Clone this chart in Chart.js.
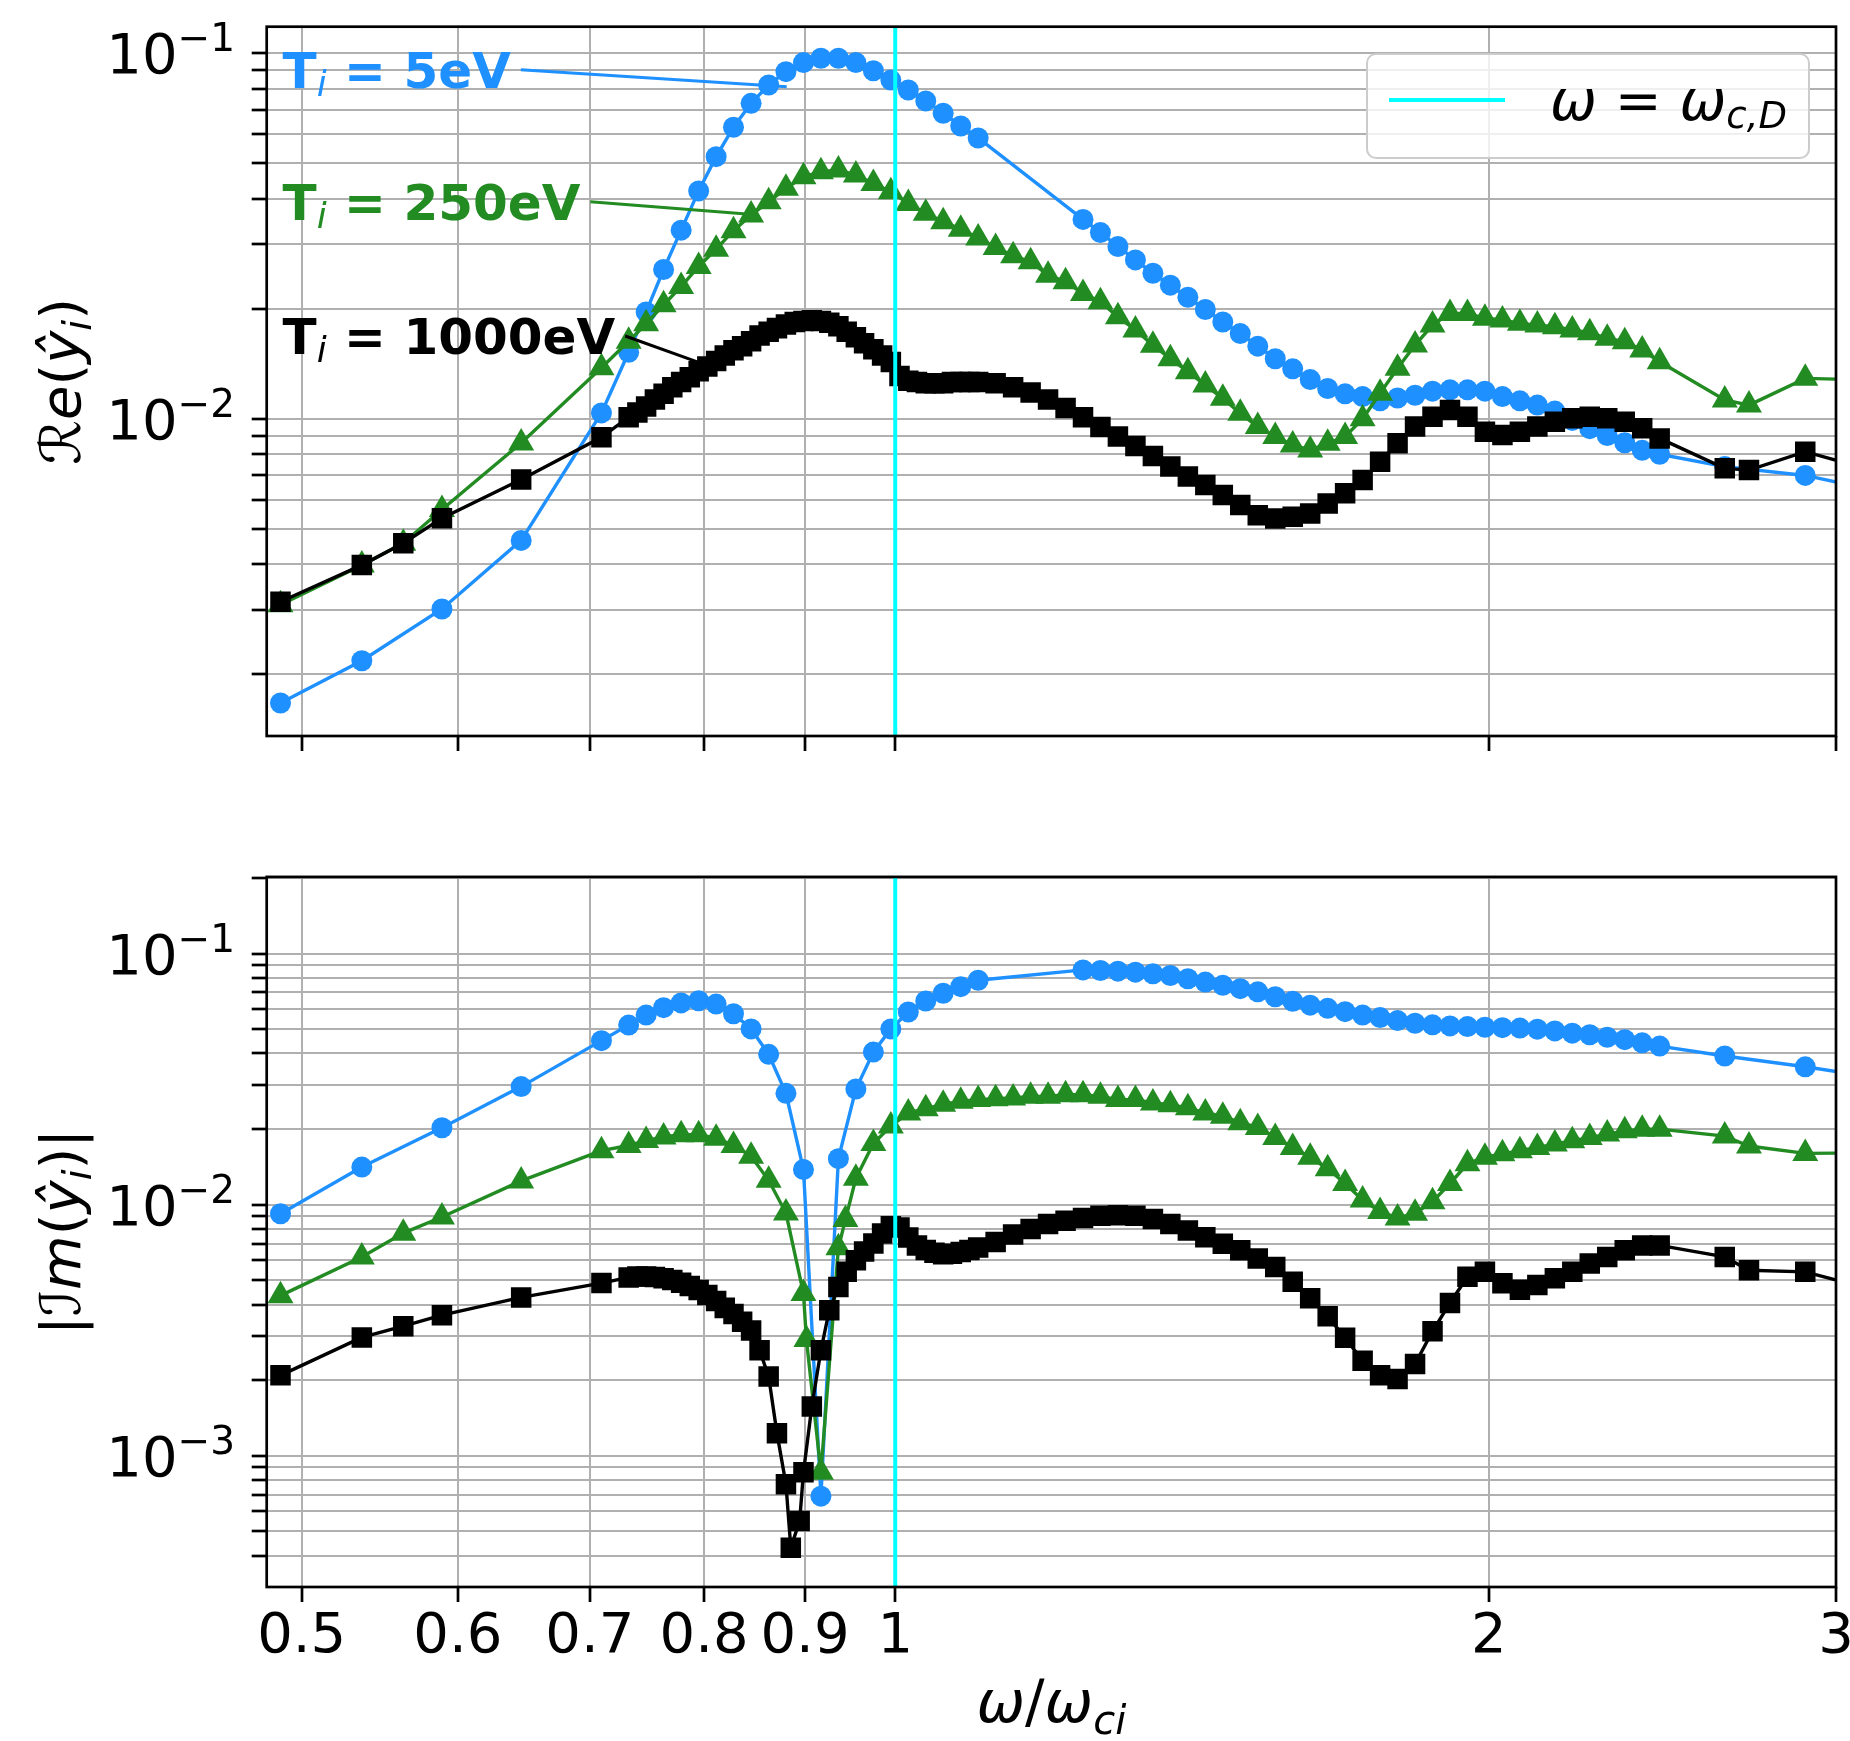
<!DOCTYPE html>
<html>
<head>
<meta charset="utf-8">
<script src="https://cdn.jsdelivr.net/npm/chart.js@4.4.1/dist/chart.umd.min.js"></script>
<style>
  html, body { margin: 0; padding: 0; background: #fff; }
  #wrap { position: relative; width: 1850px; height: 1741px; }
  canvas { position: absolute; left: 0; }
  #reChart { top: 0; }
  #imChart { top: 800px; }
</style>
</head>
<body>
<div id="wrap">
  <canvas id="reChart" width="1850" height="800"></canvas>
  <canvas id="imChart" width="1850" height="941"></canvas>
</div>
<script>
// frequency sweep, omega / omega_ci
var wLow = [0.4878, 0.5364, 0.5630, 0.5890, 0.6461, 0.7096];
var wRes = [0.7325, 0.7400, 0.7476, 0.7553, 0.7630, 0.7708, 0.7788, 0.7867, 0.7949, 0.8030,
            0.8113, 0.8195, 0.8279, 0.8363, 0.8451, 0.8535, 0.8626, 0.8710, 0.8802, 0.8893,
            0.8984, 0.9072, 0.9169, 0.9259, 0.9358, 0.9449, 0.9551, 0.9643, 0.9748, 0.9848,
            0.9949, 1.0050, 1.0154, 1.0257, 1.0363, 1.0469, 1.0576, 1.0685, 1.0795, 1.0905, 1.1017];
var wMid = [1.1244, 1.1476, 1.1713, 1.1954, 1.2201, 1.2452, 1.2708, 1.2970, 1.3238, 1.3511,
            1.3789, 1.4074, 1.4364, 1.4660, 1.4962, 1.5271, 1.5586, 1.5907, 1.6235, 1.6570,
            1.6911, 1.7260, 1.7616, 1.7979, 1.8350, 1.8728, 1.9114, 1.9508, 1.9910, 2.0321,
            2.0740, 2.1167, 2.1604, 2.2049, 2.2503, 2.2967, 2.3441, 2.3924, 2.4417];
var wHigh = [2.6345, 2.7101, 2.8942, 3.17];
var wDip = [0.8852, 0.8944, 0.9015, 0.9435];

// Re(y_i), T_i = 5eV
var re5Low = [0.00167, 0.00218, null, 0.00302, 0.00465, 0.01038];
var re5Res = [0.0152, null, 0.0196, null, 0.0256, null, 0.0328, null, 0.0420, null,
              0.0521, null, 0.0627, null, 0.0729, null, 0.0818, null, 0.0890, null,
              0.0942, null, 0.0968, null, 0.0968, null, 0.0942, null, 0.0895, null,
              0.0844, null, 0.0793, null, 0.0740, null, 0.0685, null, 0.0632, null, 0.0586];
var re5Mid = [null, null, null, null, null, 0.0351, 0.0323, 0.0296, 0.0272, 0.0250,
              0.0232, 0.0215, 0.0199, 0.0184, 0.0171, 0.0158, 0.0146, 0.0137, 0.0128, 0.0121,
              0.0117, 0.0115, 0.0112, 0.0114, 0.0116, 0.0119, 0.0120, 0.0120, 0.0119, 0.0115,
              0.0112, 0.0109, 0.0105, 0.0099, 0.0094, 0.0090, 0.0086, 0.0082, 0.0080];
var re5High = [0.0074, null, 0.0070, 0.0063];

// Re(y_i), T_i = 250eV
var re250Low = [0.0031, 0.00398, 0.00457, 0.00565, 0.00859, 0.0138];
var re250Res = [0.0163, null, 0.0182, null, 0.0205, null, 0.0230, null, 0.0261, null,
                0.0291, null, 0.0327, null, 0.0361, null, 0.0392, null, 0.0427, null,
                0.0459, null, 0.0474, null, 0.0479, null, 0.0464, null, 0.0440, null,
                0.0418, null, 0.0388, null, 0.0365, null, 0.0346, null, 0.0330, null, 0.0312];
var re250Mid = [0.0294, 0.0279, 0.0269, 0.0247, 0.0237, 0.0220, 0.0209, 0.0190, 0.0175, 0.0159,
                0.0146, 0.01345, 0.01237, 0.01138, 0.01035, 0.00952, 0.00894, 0.00848, 0.00821, 0.00857,
                0.00894, 0.0100, 0.01174, 0.01374, 0.01591, 0.01804, 0.01942, 0.01942, 0.01883, 0.01863,
                0.01824, 0.01804, 0.01785, 0.01749, 0.0172, 0.0166, 0.01625, 0.01542, 0.01432];
var re250High = [0.01126, 0.0109, 0.0129, 0.01275];

// Re(y_i), T_i = 1000eV
var re1000Low = [0.00316, 0.00398, 0.00457, 0.00535, 0.00682, 0.0089];
var re1000Res = [0.0101, 0.0104, 0.0108, 0.0113, 0.0117, 0.0122, 0.0126, 0.0130, 0.0135, 0.0139,
                 0.0144, 0.0149, 0.0154, 0.0158, 0.0163, 0.0169, 0.0173, 0.0177, 0.0181, 0.0184,
                 0.0185, 0.0186, 0.0185, 0.0183, 0.0179, 0.0173, 0.0167, 0.0161, 0.0155, 0.0149,
                 0.0143, 0.0131, 0.0127, 0.0126, 0.0125, 0.0125, 0.0125, 0.0126, 0.0126, 0.0126, 0.0126];
var re1000Mid = [0.0125, 0.0122, 0.0118, 0.0113, 0.0107, 0.0101, 0.0095, 0.00894, 0.00842, 0.00791,
                 0.0074, 0.00695, 0.00659, 0.00619, 0.00581, 0.00545, 0.00534, 0.0054, 0.00551, 0.00587,
                 0.00626, 0.0068, 0.00763, 0.00857, 0.00952, 0.01013, 0.01057, 0.01013, 0.00922, 0.00903,
                 0.00922, 0.00952, 0.00982, 0.01003, 0.01013, 0.01003, 0.00982, 0.00942, 0.00884];
var re1000High = [0.00732, 0.00724, 0.00813, 0.0071];

// |Im(y_i)|, T_i = 5eV
var im5Low = [0.0092, 0.01411, null, 0.02025, 0.02952, 0.0450];
var im5Res = [0.0519, null, 0.0569, null, 0.0609, null, 0.0636, null, 0.0649, null,
              0.0629, null, 0.0576, null, 0.0501, null, 0.0397, null, 0.02775, null,
              0.0138, null, 0.00069, null, 0.01525, null, 0.02888, null, 0.0405, null,
              0.0501, null, 0.0585, null, 0.0647, null, 0.0695, null, 0.0738, null, 0.0783];
var im5Mid = [null, null, null, null, null, 0.0861, 0.0856, 0.0851, 0.0843, 0.0831,
              0.0818, 0.0794, 0.0770, 0.0747, 0.0725, 0.0704, 0.0673, 0.0646, 0.0623, 0.0605,
              0.0587, 0.0569, 0.0556, 0.0541, 0.0528, 0.0520, 0.0515, 0.0512, 0.0509, 0.0507,
              0.0505, 0.0500, 0.0492, 0.0482, 0.0475, 0.0464, 0.0454, 0.0441, 0.0428];
var im5High = [0.0391, null, 0.0354, 0.0317];

// |Im(y_i)|, T_i = 250eV
var im250Low = [0.00434, 0.00619, 0.0077, 0.00893, 0.01243, 0.0164];
var im250Res = [0.0172, null, 0.0180, null, 0.0186, null, 0.0190, null, 0.0190, null,
                0.0184, null, 0.0172, null, 0.0156, null, 0.0125, null, 0.00926, null,
                0.00443, null, 0.00086, null, 0.00673, null, 0.01274, null, 0.01753, null,
                0.02056, null, 0.0232, null, 0.0241, null, 0.0251, null, 0.0258, null, 0.0262];
var im250Mid = [0.0264, 0.0266, 0.0270, 0.0270, 0.0274, 0.0274, 0.0270, 0.0262, 0.0262, 0.0254,
                0.0250, 0.0243, 0.0232, 0.0225, 0.0212, 0.0203, 0.0185, 0.0169, 0.01545, 0.0139,
                0.01214, 0.01043, 0.00939, 0.00884, 0.00925, 0.01027, 0.01214, 0.01455, 0.01545, 0.01593,
                0.0164, 0.0169, 0.01743, 0.01796, 0.0185, 0.0191, 0.01967, 0.01998, 0.01998];
var im250High = [0.01875, 0.01712, 0.0160, 0.0161];
var im250Dip = [null, null, 0.0029, 0.00872];

// |Im(y_i)|, T_i = 1000eV
var im1000Low = [0.00209, 0.00296, 0.00328, 0.00363, 0.00427, 0.00487];
var im1000Res = [0.00513, 0.00517, 0.00517, 0.00515, 0.00509, 0.00501, 0.00489, 0.00474, 0.00457, 0.00437,
                 0.00413, 0.00388, 0.00367, 0.00342, 0.00315, 0.00263, 0.00207, 0.00123, 0.00077, null,
                 0.00086, 0.00157, 0.00263, 0.0038, 0.0047, 0.0054, 0.0060, 0.0065, 0.0070, 0.00768,
                 0.0082, 0.0081, 0.0074, 0.00687, 0.0066, 0.00643, 0.00634, 0.00638, 0.00647, 0.0066, 0.00675];
var im1000Mid = [0.0071, 0.0076, 0.0080, 0.00837, 0.00863, 0.00884, 0.00903, 0.00908, 0.00903, 0.00876,
                 0.00837, 0.00788, 0.00742, 0.00699, 0.00658, 0.0061, 0.00565, 0.00493, 0.00424, 0.00359,
                 0.00295, 0.00239, 0.00209, 0.00202, 0.00232, 0.00313, 0.00406, 0.00516, 0.0054, 0.00486,
                 0.00458, 0.00479, 0.00509, 0.0054, 0.00583, 0.00619, 0.00658, 0.00688, 0.00688];
var im1000High = [0.00619, 0.00548, 0.0054, 0.00446];
var im1000Dip = [0.00043, 0.00055, null, null];

// axes
var wRange = [0.48, 3];
var reRange = [0.001357, 0.1181];
var imRange = [0.000325, 0.202];
var xTickVals = [0.5, 0.6, 0.7, 0.8, 0.9, 1, 2, 3];
var xTickLabels = ['0.5', '0.6', '0.7', '0.8', '0.9', '1', '2', '3'];
var wCyclotron = 1;

// labels pointing at the Re curves
var noteLabels = ['5eV', '250eV', '1000eV'];
var noteW = [0.489, 0.489, 0.489];
var noteV = [0.0901, 0.0392, 0.01684];
var noteTipW = [0.881, 0.8405, 0.7975];
var noteTipV = [0.0809, 0.0363, 0.01418];

var BLUE = '#1e90ff', GREEN = '#228b22', BLACK = '#000000', CYAN = '#00ffff';
var FONT = "'DejaVu Sans'";

function points(parts) {
    var pts = [];
    parts.forEach(function(p) {
        var xs = p[0], ys = p[1];
        for (var i = 0; i < xs.length; i++) {
            if (ys[i] !== null && ys[i] !== undefined) pts.push({x: xs[i], y: ys[i]});
        }
    });
    pts.sort(function(a, b) { return a.x - b.x; });
    return pts;
}

function series(data, color, style, radius, order) {
    return {
        data: data,
        borderColor: color,
        backgroundColor: color,
        pointBackgroundColor: color,
        borderWidth: 3.4,
        pointStyle: style,
        pointRadius: radius,
        pointHoverRadius: radius,
        pointBorderWidth: 0,
        order: order,
        clip: 0
    };
}

function cyanLine() {
    return {
        data: [{x: wCyclotron, y: 1e-6}, {x: wCyclotron, y: 10}],
        borderColor: CYAN,
        borderWidth: 4,
        pointRadius: 0,
        order: 0,
        clip: 0
    };
}

function logTicks(min, max) {
    var t = [];
    for (var e = -5; e <= 1; e++) {
        for (var m = 1; m <= 9; m++) {
            var v = m * Math.pow(10, e);
            if (v >= min && v <= max) t.push({value: v});
        }
    }
    return t;
}

var gridStyle = {color: '#b0b0b0', lineWidth: 2, drawTicks: true, tickLength: 15, tickColor: '#000', tickWidth: 2.7};

function xAxis(showLabels, height) {
    return {
        type: 'logarithmic',
        min: wRange[0],
        max: wRange[1],
        afterBuildTicks: function(s) { s.ticks = xTickVals.map(function(v) { return {value: v}; }); },
        afterFit: function(s) {
            s.height = height;
            // keep the plot edges fixed, the "3" may run off the figure
            s.paddingLeft = 0;
            s.paddingRight = 0;
        },
        ticks: {
            display: showLabels, autoSkip: false, maxRotation: 0, minRotation: 0, padding: 2,
            color: '#000', font: {family: 'DejaVu Sans', size: 56},
            callback: function(v, i) { return xTickLabels[i]; }
        },
        grid: gridStyle,
        border: {display: false}
    };
}

function yAxis(range) {
    return {
        type: 'logarithmic',
        min: range[0],
        max: range[1],
        afterBuildTicks: function(s) { s.ticks = logTicks(range[0], range[1]); },
        afterFit: function(s) { s.width = 266.7; s.paddingTop = 0; s.paddingBottom = 0; },
        ticks: {display: false},
        grid: gridStyle,
        border: {display: false}
    };
}

function drawRuns(ctx, runs, x, y, align) {
    var total = 0;
    runs.forEach(function(r) { ctx.font = r.f; r.w = ctx.measureText(r.t).width; total += r.w; });
    var cx = align === 'right' ? x - total : (align === 'center' ? x - total / 2 : x);
    ctx.textAlign = 'left';
    ctx.textBaseline = 'alphabetic';
    runs.forEach(function(r) { ctx.font = r.f; ctx.fillText(r.t, cx, y + (r.dy || 0)); cx += r.w; });
    return total;
}

var decor = {
    id: 'decor',
    afterDatasetsDraw: function(chart, args, opts) {
        if (!opts.notes) return;
        var ctx = chart.ctx, xs = chart.scales.x, ys = chart.scales.y;
        var colors = [BLUE, GREEN, BLACK];
        ctx.save();
        for (var i = 0; i < noteLabels.length; i++) {
            var px = xs.getPixelForValue(noteW[i]), py = ys.getPixelForValue(noteV[i]);
            ctx.fillStyle = colors[i];
            var w = drawRuns(ctx, [
                {t: 'T', f: 'bold 50px ' + FONT},
                {t: 'i', f: 'italic 36px ' + FONT, dy: 8},
                {t: ' = ' + noteLabels[i], f: 'bold 50px ' + FONT}
            ], px, py + 18, 'left');
            ctx.strokeStyle = colors[i];
            ctx.lineWidth = 3;
            ctx.beginPath();
            ctx.moveTo(px + w + 10, py);
            ctx.lineTo(xs.getPixelForValue(noteTipW[i]), ys.getPixelForValue(noteTipV[i]));
            ctx.stroke();
        }
        ctx.restore();
    },
    afterDraw: function(chart, args, opts) {
        var ctx = chart.ctx, a = chart.chartArea, ys = chart.scales.y;
        ctx.save();
        // axes frame
        ctx.strokeStyle = '#000';
        ctx.lineWidth = 2.7;
        ctx.strokeRect(a.left, a.top, a.right - a.left, a.bottom - a.top);

        // decade labels 10^n
        ctx.fillStyle = '#000';
        ys.ticks.forEach(function(t) {
            var e = Math.log10(t.value);
            if (Math.abs(e - Math.round(e)) > 1e-6) return;
            var py = ys.getPixelForValue(t.value);
            drawRuns(ctx, [
                {t: '10', f: '56px ' + FONT},
                {t: '\u2212' + Math.abs(Math.round(e)), f: '39px ' + FONT, dy: -22}
            ], 235, py + 20, 'right');
        });

        // y title
        ctx.save();
        ctx.translate(80, (a.top + a.bottom) / 2);
        ctx.rotate(-Math.PI / 2);
        drawRuns(ctx, opts.yTitle, 0, 0, 'center');
        ctx.restore();

        if (opts.xTitle) {
            drawRuns(ctx, [
                {t: '\u03c9', f: 'italic 58px ' + FONT},
                {t: '/', f: '58px ' + FONT},
                {t: '\u03c9', f: 'italic 58px ' + FONT},
                {t: 'ci', f: 'italic 40px ' + FONT, dy: 12}
            ], (a.left + a.right) / 2, 922, 'center');
        }

        if (opts.legend) {
            ctx.beginPath();
            ctx.roundRect(1367, 54, 442, 104, 9);
            ctx.fillStyle = 'rgba(255,255,255,0.8)';
            ctx.fill();
            ctx.strokeStyle = '#cccccc';
            ctx.lineWidth = 2;
            ctx.stroke();
            ctx.strokeStyle = CYAN;
            ctx.lineWidth = 4;
            ctx.beginPath();
            ctx.moveTo(1389, 100);
            ctx.lineTo(1505, 100);
            ctx.stroke();
            ctx.fillStyle = '#000';
            drawRuns(ctx, [
                {t: '\u03c9', f: 'italic 56px ' + FONT},
                {t: ' = ', f: '56px ' + FONT},
                {t: '\u03c9', f: 'italic 56px ' + FONT},
                {t: 'c,D', f: 'italic 37px ' + FONT, dy: 8}
            ], 1550, 120, 'left');
        }
        ctx.restore();
    }
};

Chart.defaults.font.family = 'DejaVu Sans';

var reTitle = [
    {t: '\u211b', f: '56px ' + FONT},
    {t: 'e', f: 'italic 56px ' + FONT},
    {t: '(', f: '56px ' + FONT},
    {t: '\u0177', f: 'italic 56px ' + FONT},
    {t: 'i', f: 'italic 39px ' + FONT, dy: 11},
    {t: ')', f: '56px ' + FONT}
];
var imTitle = [
    {t: '|', f: '56px ' + FONT},
    {t: '\u2110', f: '56px ' + FONT},
    {t: 'm', f: 'italic 56px ' + FONT},
    {t: '(', f: '56px ' + FONT},
    {t: '\u0177', f: 'italic 56px ' + FONT},
    {t: 'i', f: 'italic 39px ' + FONT, dy: 11},
    {t: ')', f: '56px ' + FONT},
    {t: '|', f: '56px ' + FONT}
];

new Chart(document.getElementById('reChart'), {
    type: 'line',
    data: {
        datasets: [
            cyanLine(),
            series(points([[wLow, re5Low], [wRes, re5Res], [wMid, re5Mid], [wHigh, re5High]]), BLUE, 'circle', 10.5, 3),
            series(points([[wLow, re250Low], [wRes, re250Res], [wMid, re250Mid], [wHigh, re250High]]), GREEN, 'triangle', 15, 2),
            series(points([[wLow, re1000Low], [wRes, re1000Res], [wMid, re1000Mid], [wHigh, re1000High]]), BLACK, 'rect', 14.5, 1)
        ]
    },
    options: {
        responsive: false,
        animation: false,
        devicePixelRatio: 1,
        events: [],
        layout: {padding: {top: 26.7, right: 14, left: 0, bottom: 0}, autoPadding: false},
        scales: {x: xAxis(false, 64), y: yAxis(reRange)},
        plugins: {
            legend: {display: false},
            tooltip: {enabled: false},
            decor: {yTitle: reTitle, notes: true, legend: true}
        }
    },
    plugins: [decor]
});

new Chart(document.getElementById('imChart'), {
    type: 'line',
    data: {
        datasets: [
            cyanLine(),
            series(points([[wLow, im5Low], [wRes, im5Res], [wMid, im5Mid], [wHigh, im5High]]), BLUE, 'circle', 10.5, 3),
            series(points([[wLow, im250Low], [wRes, im250Res], [wMid, im250Mid], [wHigh, im250High], [wDip, im250Dip]]), GREEN, 'triangle', 15, 2),
            series(points([[wLow, im1000Low], [wRes, im1000Res], [wMid, im1000Mid], [wHigh, im1000High], [wDip, im1000Dip]]), BLACK, 'rect', 14.5, 1)
        ]
    },
    options: {
        responsive: false,
        animation: false,
        devicePixelRatio: 1,
        events: [],
        layout: {padding: {top: 76.9, right: 14, left: 0, bottom: 0}, autoPadding: false},
        scales: {x: xAxis(true, 154), y: yAxis(imRange)},
        plugins: {
            legend: {display: false},
            tooltip: {enabled: false},
            decor: {yTitle: imTitle, xTitle: true}
        }
    },
    plugins: [decor]
});
</script>
</body>
</html>
